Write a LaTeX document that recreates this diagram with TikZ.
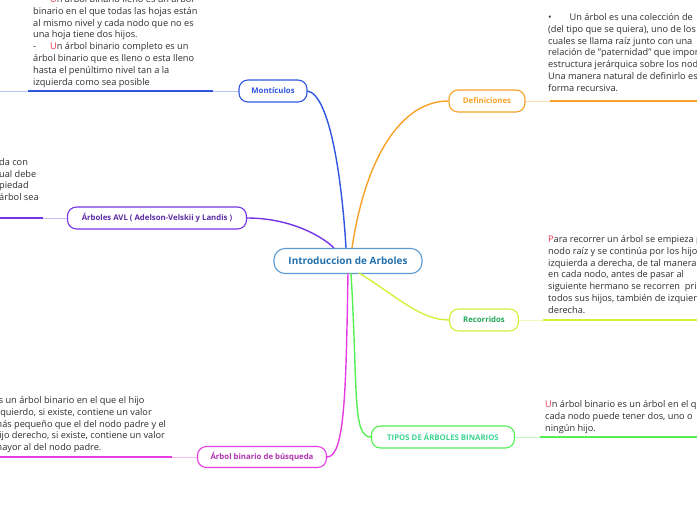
\documentclass[tikz,border=0pt]{standalone}
\usepackage{fontspec}
\setmainfont{Open Sans}
\usepackage{tikz}
\usetikzlibrary{calc}
\definecolor{ink}{HTML}{2E2E2E}
\definecolor{initial}{HTML}{E8304A}
\definecolor{rootc}{HTML}{5B9BD5}
\definecolor{roottext}{HTML}{2370AC}
\definecolor{montc}{HTML}{2F56E0}
\definecolor{avlc}{HTML}{7434E6}
\definecolor{avltext}{HTML}{5E2CA5}
\definecolor{busqc}{HTML}{E53BE3}
\definecolor{busqtext}{HTML}{B033B0}
\definecolor{defic}{HTML}{F7A126}
\definecolor{recoc}{HTML}{CFF23A}
\definecolor{recotext}{HTML}{24A85A}
\definecolor{tiposc}{HTML}{52EE52}
\definecolor{tipostext}{HTML}{3DD592}

\begin{document}
\begin{tikzpicture}[x=1pt, y=-1pt,
  topic/.style={draw, rounded corners=9pt, line width=1.1pt, fill=white,
    inner sep=0pt, font=\bfseries\fontsize{7.8}{9}\selectfont},
  note/.style={anchor=north west, align=left, inner sep=0pt, text=ink,
    font=\fontsize{9.2}{11.9}\selectfont},
  link/.style={line width=1.4pt},
  stem/.style={line width=0.8pt},
  under/.style={line width=2pt}]
  \useasboundingbox (0,0) rectangle (697,520);
  \clip (0,0) rectangle (697,520);

  % central topic and main branches
  \node[topic, draw=rootc, text=roottext, minimum width=148pt, minimum height=25pt,
    rounded corners=11pt, font=\bfseries\fontsize{10}{11}\selectfont]
    (root) at (348,261) {Introduccion de Arboles};

  \coordinate (rn) at (346,248);
  \coordinate (rs) at (349,273);

  \node[topic, draw=montc, text=montc, minimum width=68pt, minimum height=22pt]
    (mont) at (273,91) {Montículos};
  \node[topic, draw=avlc, text=avltext, minimum width=179pt, minimum height=22pt]
    (avl) at (157,218) {Árboles AVL ( Adelson-Velskii y Landis )};
  \node[topic, draw=busqc, text=busqtext, minimum width=129pt, minimum height=21pt]
    (busq) at (262,457) {Árbol binario de búsqueda};
  \node[topic, draw=defic, text=defic, minimum width=76pt, minimum height=22pt]
    (defi) at (487,101) {Definiciones};
  \node[topic, draw=recoc, text=recotext, minimum width=69pt, minimum height=22pt]
    (reco) at (484,320) {Recorridos};
  \node[topic, draw=tiposc, text=tipostext, minimum width=143pt, minimum height=22pt]
    (tipos) at (443,437) {TIPOS DE ÁRBOLES BINARIOS};

  \draw[link, montc] (mont.east) .. controls (330,95) and (342,180) .. (rn);
  \draw[link, avlc] (avl.east) .. controls (290,218) and (322,236) .. ($(rn)+(-12,0)$);
  \draw[link, defic] ($(rn)+(6,0)$) .. controls (365,160) and (400,101) .. (defi.west);
  \draw[link, recoc] ($(rs)+(10,0)$) .. controls (395,295) and (420,320) .. (reco.west);
  \draw[link, tiposc] ($(rs)+(2,0)$) .. controls (358,390) and (352,437) .. (tipos.west);
  \draw[link, busqc] ($(rs)+(-1,0)$) .. controls (346,390) and (345,457) .. (busq.east);

  % texts and their underlines
  \coordinate (mu) at (28,91);
  \draw[stem, montc!35] (mont.west) -- (213,91) (mu) -- (0,91);
  \draw[under, montc] (213,91) -- (mu);
  \node[note] (montnote) at (33,-5) {%
    -\hspace{14pt}\textcolor{initial}{U}n árbol binario lleno es un árbol\\
    binario en el que todas las hojas están\\
    al mismo nivel y cada nodo que no es\\
    una hoja tiene dos hijos.\\
    -\hspace{14pt}\textcolor{initial}{U}n árbol binario completo es un\\
    árbol binario que es lleno o esta lleno\\
    hasta el penúltimo nivel tan a la\\
    izquierda como sea posible};

  \draw[stem, avlc!35] (avl.west) -- (43,218);
  \draw[under, avlc] (43,218) -- (0,218);
  \node[note] (avlnote) at (-1,158) {%
    da con\\
    ual debe\\
    piedad\\
    árbol sea};

  \draw[stem, busqc!35] (busq.west) -- (172,457);
  \draw[under, busqc] (172,457) -- (0,457);
  \node[note] (busqnote) at (-6.5,396) {%
    Es un árbol binario en el que el hijo\\
    izquierdo, si existe, contiene un valor\\
    más pequeño que el del nodo padre y el\\
    hijo derecho, si existe, contiene un valor\\
    mayor al del nodo padre.};

  \draw[stem, defic!35] (defi.east) -- (550,101);
  \draw[under, defic] (550,101) -- (697,101);
  \node[note] (definote) at (548,13) {%
    •\hspace{18pt}Un árbol es una colección de\\
    (del tipo que se quiera), uno de los\\
    cuales se llama raíz junto con una\\
    relación de "paternidad" que impone\\
    estructura jerárquica sobre los nodos.\\
    Una manera natural de definirlo es\\
    forma recursiva.};

  \draw[stem, recoc!35] (reco.east) -- (543,320);
  \draw[under, recoc] (543,320) -- (697,320);
  \node[note] (reconote) at (548,235) {%
    \textcolor{initial}{P}ara recorrer un árbol se empieza por\\
    nodo raíz y se continúa por los hijos\\
    izquierda a derecha, de tal manera que\\
    en cada nodo, antes de pasar al\\
    siguiente hermano se recorren\ \ primero\\
    todos sus hijos, también de izquierda\\
    derecha.};

  \draw[stem, tiposc!35] (tipos.east) -- (540,437);
  \draw[under, tiposc] (540,437) -- (697,437);
  \node[note] (tiposnote) at (545,400) {%
    \textcolor{initial}{U}n árbol binario es un árbol en el que\\
    cada nodo puede tener dos, uno o\\
    ningún hijo.};
\end{tikzpicture}
\end{document}
